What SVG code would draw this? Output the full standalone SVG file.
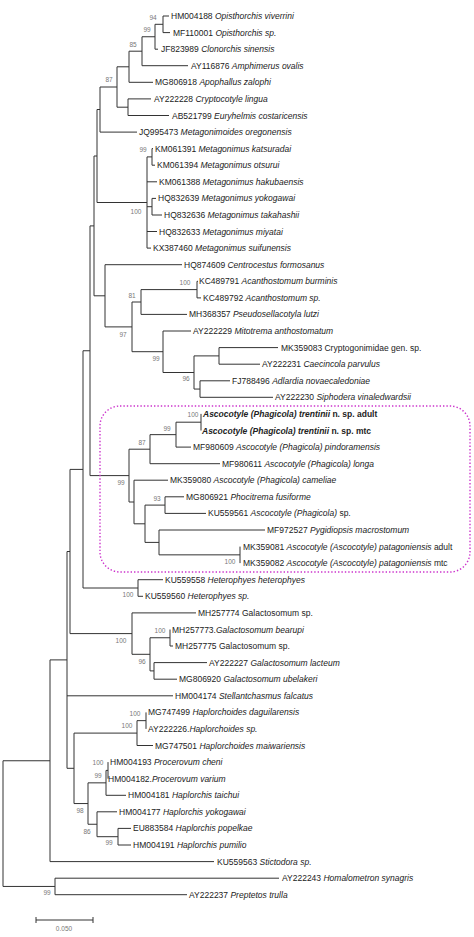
<svg xmlns="http://www.w3.org/2000/svg" width="474" height="937" viewBox="0 0 474 937">
<style>
.t{font-family:"Liberation Sans",Arial,sans-serif;font-size:8.5px;fill:#222}
.i{font-style:italic}
.bd{font-weight:bold}
.b{font-family:"Liberation Sans",Arial,sans-serif;font-size:6.5px;fill:#777;text-anchor:middle}
.ln{fill:none;stroke:#333;stroke-width:1}
</style>
<rect width="474" height="937" fill="#fff"/>
<g id="connectors" class="ln">
<path d="M163 16V32.6M163 16H169M163 32.6H170"/>
<path d="M155 24.3V49.2M155 24.3H163M155 49.2H158"/>
<path d="M142 36.75V65.7M142 36.75H155M142 65.7H188"/>
<path d="M129 51.2V82.3M129 51.2H142M129 82.3H153"/>
<path d="M128 98.9V115.5M128 98.9H151M128 115.5H169"/>
<path d="M117 66.8V107.2M117 66.8H129M117 107.2H128"/>
<path d="M100 87V132.1M100 87H117M100 132.1H137"/>
<path d="M152 148.6V165.2M152 148.6H153M152 165.2H155"/>
<path d="M152 198.4V215M152 198.4H156M152 215H162"/>
<path d="M147 156.9V248.1M147 156.9H152M147 181.8H157M147 206.7H152M147 231.5H157M147 248.1H151"/>
<path d="M97 109.5V202.5M97 109.5H100M97 202.5H147"/>
<path d="M197 281.3V297.9M197 281.3H198M197 297.9H201"/>
<path d="M141 289.6V314.4M141 289.6H197M141 314.4H187"/>
<path d="M219 347.6V364.2M219 347.6H278M219 364.2H260"/>
<path d="M200 380.8V397.3M200 380.8H230M200 397.3H273"/>
<path d="M194 355.9V389.05M194 355.9H219M194 389.05H200"/>
<path d="M163 331V372.5M163 331H191M163 372.5H194"/>
<path d="M132 302V351.7M132 302H141M132 351.7H163"/>
<path d="M105 264.7V326.9M105 264.7H182M105 326.9H132"/>
<path d="M94 156V295.8M94 156H97M94 295.8H105"/>
<path d="M201 413.9V430.5"/>
<path d="M176 422.2V447.1M176 422.2H201M176 447.1H191"/>
<path d="M150 434.65V463.7M150 434.65H176M150 463.7H220"/>
<path d="M165 496.8V513.4M165 496.8H184M165 513.4H206"/>
<path d="M240 546.6V563.1"/>
<path d="M159 530V554.85M159 530H265M159 554.85H240"/>
<path d="M145 505.1V542.4M145 505.1H165M145 542.4H159"/>
<path d="M134 480.2V523.8M134 480.2H168M134 523.8H145"/>
<path d="M129 449.2V502M129 449.2H150M129 502H134"/>
<path d="M90 225.9V475.6M90 225.9H94M90 475.6H129"/>
<path d="M138 579.7V596.3M138 579.7H163M138 596.3H143"/>
<path d="M83 350.75V588M83 350.75H90M83 588H138"/>
<path d="M170 629.5V646M170 646H173"/>
<path d="M154 662.6V679.2M154 662.6H207M154 679.2H177"/>
<path d="M150 637.75V670.9M150 637.75H170M150 670.9H154"/>
<path d="M132 612.9V654.3M132 612.9H196M132 654.3H150"/>
<path d="M70 469.4V633.6M70 469.4H83M70 633.6H132"/>
<path d="M146 712.4V728.9"/>
<path d="M137 720.65V745.5M137 720.65H146M137 745.5H153"/>
<path d="M108 762.1V778.7"/>
<path d="M106 770.4V795.3M106 770.4H108M106 795.3H126"/>
<path d="M118 828.4V845M118 828.4H131M118 845H131"/>
<path d="M97 811.8V836.7M97 811.8H117M97 836.7H118"/>
<path d="M88 782.85V824.25M88 782.85H106M88 824.25H97"/>
<path d="M74 733.1V803.55M74 733.1H137M74 803.55H88"/>
<path d="M67 551.5V768.3M67 551.5H70M67 695.8H173M67 768.3H74"/>
<path d="M50 659.9V861.6M50 659.9H67M50 861.6H214"/>
<path d="M55 878.2V894.7M55 878.2H279M55 894.7H187"/>
<path d="M3 760.75V886.45M3 760.75H50M3 886.45H55"/>
</g>
<g id="clade-box">
<rect x="100" y="406" width="370" height="166" rx="20" fill="none" stroke="#c3c" stroke-width="1.4" stroke-dasharray="1.4 2"/>
</g>
<g id="leaves" class="t">
<text id="L1" x="171" y="19">HM004188 <tspan class="i">Opisthorchis viverrini</tspan></text>
<text id="L2" x="173" y="35.6">MF110001 <tspan class="i">Opisthorchis sp.</tspan></text>
<text id="L3" x="161" y="52.2">JF823989 <tspan class="i">Clonorchis sinensis</tspan></text>
<text id="L4" x="191" y="68.7">AY116876 <tspan class="i">Amphimerus ovalis</tspan></text>
<text id="L5" x="155" y="85.3">MG806918 <tspan class="i">Apophallus zalophi</tspan></text>
<text id="L6" x="154" y="101.9">AY222228 <tspan class="i">Cryptocotyle lingua</tspan></text>
<text id="L7" x="172" y="118.5">AB521799 <tspan class="i">Euryhelmis costaricensis</tspan></text>
<text id="L8" x="139" y="135.1">JQ995473 <tspan class="i">Metagonimoides oregonensis</tspan></text>
<text id="L9" x="155" y="151.6">KM061391 <tspan class="i">Metagonimus katsuradai</tspan></text>
<text id="L10" x="157" y="168.2">KM061394 <tspan class="i">Metagonimus otsurui</tspan></text>
<text id="L11" x="159" y="184.8">KM061388 <tspan class="i">Metagonimus hakubaensis</tspan></text>
<text id="L12" x="158" y="201.4">HQ832639 <tspan class="i">Metagonimus yokogawai</tspan></text>
<text id="L13" x="164" y="218">HQ832636 <tspan class="i">Metagonimus takahashii</tspan></text>
<text id="L14" x="159" y="234.5">HQ832633 <tspan class="i">Metagonimus miyatai</tspan></text>
<text id="L15" x="153" y="251.1">KX387460 <tspan class="i">Metagonimus suifunensis</tspan></text>
<text id="L16" x="184" y="267.7">HQ874609 <tspan class="i">Centrocestus formosanus</tspan></text>
<text id="L17" x="199" y="284.3">KC489791 <tspan class="i">Acanthostomum burminis</tspan></text>
<text id="L18" x="203" y="300.9">KC489792 <tspan class="i">Acanthostomum sp.</tspan></text>
<text id="L19" x="189" y="317.4">MH368357 <tspan class="i">Pseudosellacotyla lutzi</tspan></text>
<text id="L20" x="193" y="334">AY222229 <tspan class="i">Mitotrema anthostomatum</tspan></text>
<text id="L21" x="281" y="350.6">MK359083 Cryptogonimidae gen. sp.</text>
<text id="L22" x="262" y="367.2">AY222231 <tspan class="i">Caecincola parvulus</tspan></text>
<text id="L23" x="232" y="383.8">FJ788496 <tspan class="i">Adlardia novaecaledoniae</tspan></text>
<text id="L24" x="275" y="400.3">AY222230 <tspan class="i">Siphodera vinaledwardsii</tspan></text>
<text id="L25" x="203" y="416.9" class="bd"><tspan class="i">Ascocotyle (Phagicola) trentinii</tspan> n. sp. adult</text>
<text id="L26" x="202" y="433.5" class="bd"><tspan class="i">Ascocotyle (Phagicola) trentinii</tspan> n. sp. mtc</text>
<text id="L27" x="193" y="450.1">MF980609 <tspan class="i">Ascocotyle (Phagicola) pindoramensis</tspan></text>
<text id="L28" x="222" y="466.7">MF980611 <tspan class="i">Ascocotyle (Phagicola) longa</tspan></text>
<text id="L29" x="170" y="483.2">MK359080 <tspan class="i">Ascocotyle (Phagicola) cameliae</tspan></text>
<text id="L30" x="186" y="499.8">MG806921 <tspan class="i">Phocitrema fusiforme</tspan></text>
<text id="L31" x="208" y="516.4">KU559561 <tspan class="i">Ascocotyle (Phagicola)</tspan> sp.</text>
<text id="L32" x="267" y="533">MF972527 <tspan class="i">Pygidiopsis macrostomum</tspan></text>
<text id="L33" x="243" y="549.6">MK359081 <tspan class="i">Ascocotyle (Ascocotyle) patagoniensis</tspan> adult</text>
<text id="L34" x="243" y="566.1">MK359082 <tspan class="i">Ascocotyle (Ascocotyle) patagoniensis</tspan> mtc</text>
<text id="L35" x="165" y="582.7">KU559558 <tspan class="i">Heterophyes heterophyes</tspan></text>
<text id="L36" x="145" y="599.3">KU559560 <tspan class="i">Heterophyes sp.</tspan></text>
<text id="L37" x="198" y="615.9">MH257774 Galactosomum sp.</text>
<text id="L38" x="172" y="632.5">MH257773.<tspan class="i">Galactosomum bearupi</tspan></text>
<text id="L39" x="175" y="649">MH257775 Galactosomum sp.</text>
<text id="L40" x="209" y="665.6">AY222227 <tspan class="i">Galactosomum lacteum</tspan></text>
<text id="L41" x="179" y="682.2">MG806920 <tspan class="i">Galactosomum ubelakeri</tspan></text>
<text id="L42" x="175" y="698.8">HM004174 <tspan class="i">Stellantchasmus falcatus</tspan></text>
<text id="L43" x="148" y="715.4">MG747499 <tspan class="i">Haplorchoides daguilarensis</tspan></text>
<text id="L44" x="148" y="731.9">AY222226.<tspan class="i">Haplorchoides sp.</tspan></text>
<text id="L45" x="155" y="748.5">MG747501 <tspan class="i">Haplorchoides maiwariensis</tspan></text>
<text id="L46" x="110" y="765.1">HM004193 <tspan class="i">Procerovum cheni</tspan></text>
<text id="L47" x="108" y="781.7">HM004182.<tspan class="i">Procerovum varium</tspan></text>
<text id="L48" x="128" y="798.3">HM004181 <tspan class="i">Haplorchis taichui</tspan></text>
<text id="L49" x="119" y="814.8">HM004177 <tspan class="i">Haplorchis yokogawai</tspan></text>
<text id="L50" x="133" y="831.4">EU883584 <tspan class="i">Haplorchis popelkae</tspan></text>
<text id="L51" x="133" y="848">HM004191 <tspan class="i">Haplorchis pumilio</tspan></text>
<text id="L52" x="217" y="864.6">KU559563 <tspan class="i">Stictodora sp.</tspan></text>
<text id="L53" x="282" y="881.2">AY222243 <tspan class="i">Homalometron synagris</tspan></text>
<text id="L54" x="189" y="897.7">AY222237 <tspan class="i">Preptetos trulla</tspan></text>
</g>
<g id="bootstrap" class="b">
<text x="153" y="20">94</text>
<text x="147" y="32">99</text>
<text x="133" y="47">85</text>
<text x="109" y="82">87</text>
<text x="143" y="152">99</text>
<text x="136" y="214">100</text>
<text x="185" y="285">100</text>
<text x="132" y="298">81</text>
<text x="123" y="337">97</text>
<text x="156" y="361">99</text>
<text x="186" y="381">96</text>
<text x="193" y="417">100</text>
<text x="167" y="431">99</text>
<text x="142" y="445">87</text>
<text x="121" y="485">99</text>
<text x="157" y="501">93</text>
<text x="230" y="564">100</text>
<text x="128" y="597">100</text>
<text x="160" y="633">100</text>
<text x="121" y="643">100</text>
<text x="142" y="664">96</text>
<text x="135" y="716">100</text>
<text x="127" y="728">100</text>
<text x="98" y="765">100</text>
<text x="98" y="778">99</text>
<text x="80" y="813">98</text>
<text x="87" y="834">86</text>
<text x="109" y="845">99</text>
<text x="47" y="895">99</text>
</g>
<g id="scale-bar">
<path class="ln" d="M36 920H93M36 917V923M93 917V923"/>
<text class="b" x="64" y="931">0.050</text>
</g>
</svg>
